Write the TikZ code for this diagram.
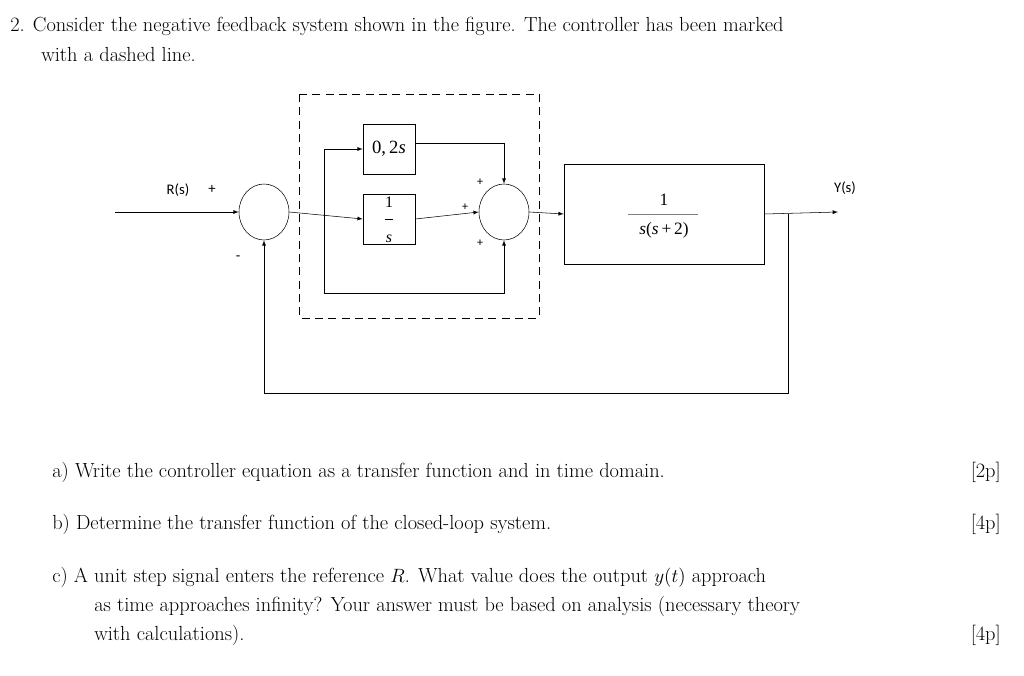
\documentclass[tikz,border=0pt]{standalone}
\usepackage{fontspec}
\usepackage{amsmath}
\newfontfamily\sansfig{Carlito}
\newfontfamily\tms{Liberation Serif}
\usetikzlibrary{positioning,shapes.geometric}

\begin{document}
\begin{tikzpicture}[x=0.75pt,y=-0.75pt,>=latex,
    sumnode/.style={draw,ellipse,minimum width=37.5pt,minimum height=42pt,inner sep=0pt},
    blk/.style={draw,rectangle,inner sep=0pt},
    lbl/.style={font=\sansfig\fontsize{11}{13}\selectfont,inner sep=0pt},
    txt/.style={anchor=base west,inner sep=0pt,font=\fontsize{15.3}{18}\selectfont}]
\useasboundingbox (0,0) rectangle (1024,675);

% Loop
\node[sumnode] (sa) at (264,212) {};
\node[sumnode] (sb) at (504,212) {};
\node[blk,minimum width=39pt,minimum height=37.5pt] (kd) at (389,149) {\tms\fontsize{14}{16}\selectfont 0,\,2\textit{s}};
\node[blk,minimum width=39pt,minimum height=37.5pt] (ki) at (389,219) {};
\node[inner sep=0pt,font=\tms\fontsize{12}{14}\selectfont] (kin) at (389,202) {1};
\draw (385,219) -- (393,219);
\node[inner sep=0pt,font=\tms\itshape\fontsize{12}{14}\selectfont,anchor=north] (kis) at (389,235) {s};
\node[blk,minimum width=150pt,minimum height=75pt] (pl) at (664,214) {};
\node[inner sep=0pt,font=\tms\fontsize{13}{15}\selectfont] (pln) at (664,200) {1};
\draw[gray] (628,214) -- (698,214);
\node[inner sep=0pt,font=\tms\fontsize{13}{15}\selectfont] (pld) at (664,230) {\textit{s}(\textit{s}\,+\,2)};

\coordinate (rin) at (115,212);
\coordinate (yout) at (838,212);
\coordinate (fb) at (788,214);
\coordinate (br) at (324,212);

\draw[->] (rin) -- (sa.west);
\draw[->] (sa.east) -- (ki.west);
\draw[->] (br) |- (kd.west);
\draw[->] (br) |- (sb.south |- 0,293) -- (sb.south);
\draw[->] (kd.east |- 0,143) -| (sb.north);
\draw[->] (ki.east) -- (sb.west);
\draw[->] (sb.east) -- (pl.west);
\draw[->] (pl.east) -- (yout);
\draw[->] (fb) |- (sa.south |- 0,393) -- (sa.south);

% Controller border
\draw[dashed,dash pattern=on 6pt off 4pt] (299,94) rectangle (539,318);

% Signs and signals
\node[lbl] (rs) at (178,190) {R(s)};
\node[lbl] (rp) at (212,189) {+};
\node[lbl] (rm) at (238,258) {-};
\node[lbl] (ys) at (845,188) {Y(s)};
\node[lbl,font=\sansfig\fontsize{9}{10}\selectfont] (p1) at (480,182) {+};
\node[lbl,font=\sansfig\fontsize{9}{10}\selectfont] (p2) at (465,207) {+};
\node[lbl,font=\sansfig\fontsize{9}{10}\selectfont] (p3) at (480,243) {+};

% Text
\node[txt] (t1) at (10,31) {2. Consider the negative feedback system shown in the figure. The controller has been marked};
\node[txt] (t2) at (41,61) {with a dashed line.};
\node[txt] (ta) at (52,477) {a) Write the controller equation as a transfer function and in time domain.};
\node[txt,anchor=base east] (pa) at (1001,477) {[2p]};
\node[txt] (tb) at (52,529) {b) Determine the transfer function of the closed-loop system.};
\node[txt,anchor=base east] (pb) at (1001,529) {[4p]};
\node[txt] (tc) at (52,582) {c) A unit step signal enters the reference $R$. What value does the output $y(t)$ approach};
\node[txt] (tc2) at (94,611) {as time approaches infinity? Your answer must be based on analysis (necessary theory};
\node[txt] (tc3) at (94,640) {with calculations).};
\node[txt,anchor=base east] (pc) at (1001,640) {[4p]};
\end{tikzpicture}
\end{document}
